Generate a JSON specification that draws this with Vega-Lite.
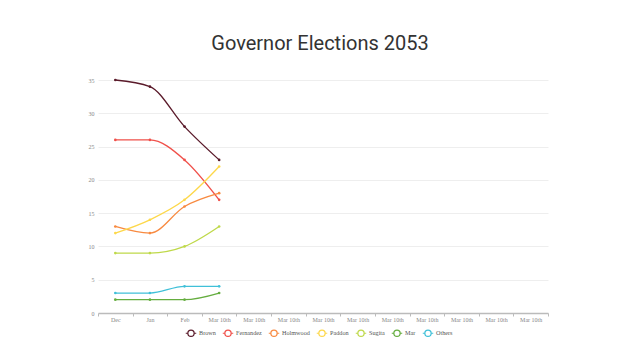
{
  "$schema": "https://vega.github.io/schema/vega-lite/v6.json",
  "width": 450,
  "height": 233,
  "autosize": "none",
  "padding": {"left": 98, "top": 80, "right": 92, "bottom": 47},
  "background": "white",
  "title": {"text": "Governor Elections 2053", "font": "Roboto", "fontSize": 20, "fontWeight": "normal", "color": "#333333", "offset": 23, "anchor": "middle", "dx": -3},
  "config": {"view": {"stroke": null}},
  "data": {"values": [
    {"m": "Dec", "name": "Brown", "v": 35}, {"m": "Jan", "name": "Brown", "v": 34}, {"m": "Feb", "name": "Brown", "v": 28}, {"m": "Mar 10th", "name": "Brown", "v": 23},
    {"m": "Dec", "name": "Fernandez", "v": 26}, {"m": "Jan", "name": "Fernandez", "v": 26}, {"m": "Feb", "name": "Fernandez", "v": 23}, {"m": "Mar 10th", "name": "Fernandez", "v": 17},
    {"m": "Dec", "name": "Holmwood", "v": 13}, {"m": "Jan", "name": "Holmwood", "v": 12}, {"m": "Feb", "name": "Holmwood", "v": 16}, {"m": "Mar 10th", "name": "Holmwood", "v": 18},
    {"m": "Dec", "name": "Paddon", "v": 12}, {"m": "Jan", "name": "Paddon", "v": 14}, {"m": "Feb", "name": "Paddon", "v": 17}, {"m": "Mar 10th", "name": "Paddon", "v": 22},
    {"m": "Dec", "name": "Sugita", "v": 9}, {"m": "Jan", "name": "Sugita", "v": 9}, {"m": "Feb", "name": "Sugita", "v": 10}, {"m": "Mar 10th", "name": "Sugita", "v": 13},
    {"m": "Dec", "name": "Mar", "v": 2}, {"m": "Jan", "name": "Mar", "v": 2}, {"m": "Feb", "name": "Mar", "v": 2}, {"m": "Mar 10th", "name": "Mar", "v": 3},
    {"m": "Dec", "name": "Others", "v": 3}, {"m": "Jan", "name": "Others", "v": 3}, {"m": "Feb", "name": "Others", "v": 4}, {"m": "Mar 10th", "name": "Others", "v": 4}
  ]},
  "encoding": {
    "x": {
      "field": "m", "type": "ordinal", "sort": null,
      "scale": {"type": "band", "domain": ["Dec", "Jan", "Feb", "Mar 10th", "M5", "M6", "M7", "M8", "M9", "M10", "M11", "M12", "M13"], "paddingInner": 0, "paddingOuter": 0},
      "axis": {
        "title": null, "labelAngle": 0, "labelFont": "Liberation Serif", "labelFontSize": 6, "labelColor": "#888888",
        "labelExpr": "indexof(datum.label, 'M') == 0 ? 'Mar 10th' : datum.label",
        "domainColor": "#bbbbbb", "domainWidth": 1.5, "tickColor": "#bbbbbb", "tickSize": 3, "tickBand": "extent",
        "grid": false, "labelPadding": 0
      }
    },
    "y": {
      "field": "v", "type": "quantitative",
      "scale": {"domain": [0, 35], "nice": false},
      "axis": {
        "title": null, "values": [0, 5, 10, 15, 20, 25, 30, 35], "labelFont": "Liberation Serif", "labelFontSize": 6, "labelColor": "#888888",
        "domain": false, "ticks": false, "gridColor": "#eeeeee", "labelPadding": 4
      }
    }
  },
  "layer": [
    {
      "mark": {"type": "line", "interpolate": "monotone", "strokeWidth": 1.3},
      "encoding": {
        "color": {
          "field": "name", "type": "nominal",
          "scale": {"domain": ["Brown", "Fernandez", "Holmwood", "Paddon", "Sugita", "Mar", "Others"], "range": ["#5a1a2a", "#f0504a", "#f88a40", "#fdd84a", "#bfd94a", "#65ad3f", "#40c0d8"]},
          "legend": {
            "title": null, "orient": "none", "legendX": 87, "legendY": 247, "direction": "horizontal", "labelFont": "Liberation Serif", "labelFontSize": 6.2, "labelColor": "#555555",
            "symbolType": "M-1,0 L-0.6,0 M0.6,0 L1,0 M0,-0.6 A0.6,0.6 0 1,1 0,0.6 A0.6,0.6 0 1,1 0,-0.6 A0.6,0.6 0 1,0 0,0.6 A0.6,0.6 0 1,0 0,-0.6", "symbolStrokeWidth": 1.2, "symbolSize": 110,
            "columnPadding": 4, "labelOffset": 2, "symbolFillColor": "white"
          }
        }
      }
    },
    {
      "mark": {"type": "circle", "size": 7, "opacity": 1},
      "encoding": {
        "fill": {
          "field": "name", "type": "nominal",
          "scale": {"domain": ["Brown", "Fernandez", "Holmwood", "Paddon", "Sugita", "Mar", "Others"], "range": ["#5a1a2a", "#f0504a", "#f88a40", "#fdd84a", "#bfd94a", "#65ad3f", "#40c0d8"]},
          "legend": null
        }
      }
    }
  ]
}
